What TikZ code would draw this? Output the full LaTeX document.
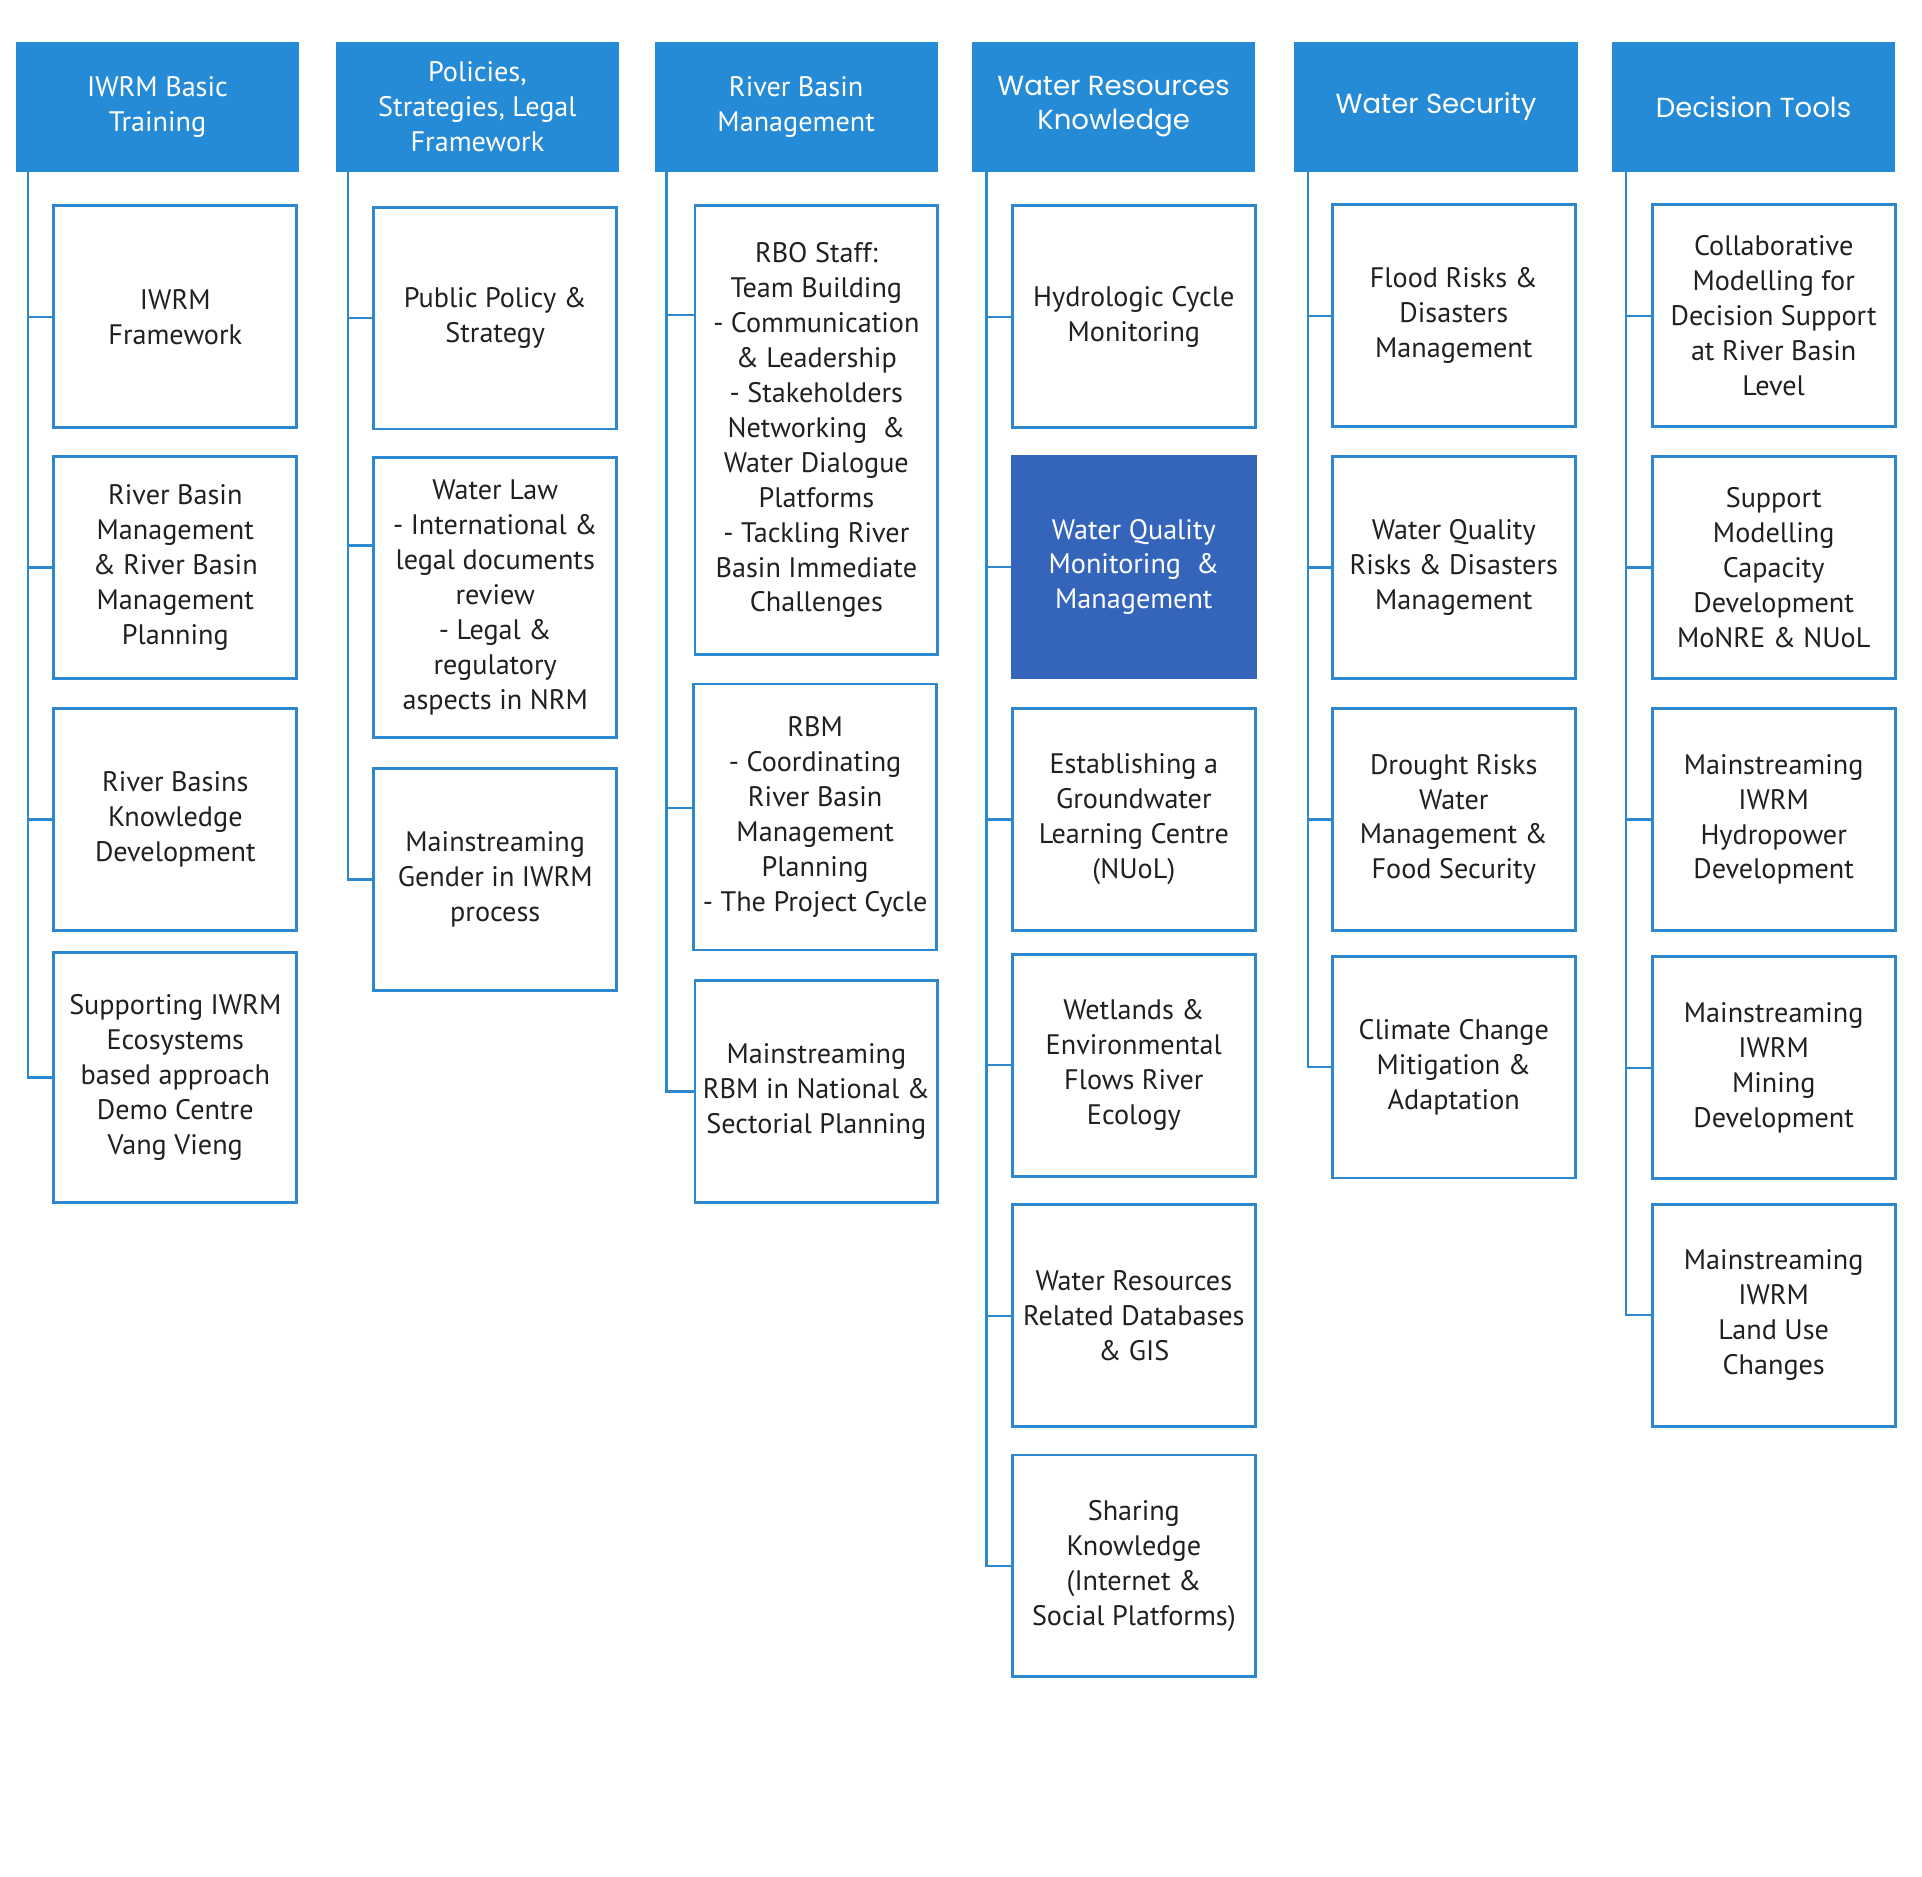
\documentclass[tikz,border=0pt]{standalone}
\usepackage{fontspec}
\setmainfont{PT Sans}
\newfontfamily\headfont{Poppins}
\definecolor{headblue}{HTML}{268BD7}
\definecolor{lineblue}{HTML}{2E88D0}
\definecolor{darkbox}{HTML}{3465BA}
\definecolor{textgray}{HTML}{231F20}
\begin{document}
\begin{tikzpicture}[x=1pt,y=-1pt,
  head/.style={fill=headblue, text=white, minimum width=231pt, minimum height=106pt,
    inner sep=0pt, align=center, font=\fontsize{23}{28.5}\selectfont},
  geohead/.style={head, font=\headfont\fontsize{22.5}{28.5}\selectfont},
  item/.style={draw=lineblue, line width=2.4pt, minimum width=198pt, minimum height=181pt,
    inner sep=0pt, align=center, text=textgray, font=\fontsize{23}{28.5}\selectfont},
  link/.style={draw=lineblue, line width=1.8pt}]
  \useasboundingbox (0,0) rectangle (1568,1531);

  \node[head]    (h1) at (128.5,87)  {IWRM Basic\\Training};
  \node[head]    (h2) at (389.5,87)  {Policies,\\Strategies, Legal\\Framework};
  \node[head]    (h3) at (649.5,87)  {River Basin\\Management};
  \node[geohead] (h4) at (908.5,87)  {Water Resources\\Knowledge};
  \node[geohead] (h5) at (1171.5,87) {Water Security};
  \node[geohead] (h6) at (1430.5,87) {Decision Tools};

  \node[item] (c11) at (143,258.5) {IWRM\\Framework};
  \node[item] (c12) at (143,463) {River Basin\\Management\\\& River Basin\\Management\\Planning};
  \node[item] (c13) at (143,668.5) {River Basins\\Knowledge\\Development};
  \node[item, minimum height=204pt] (c14) at (143,879) {Supporting IWRM\\Ecosystems\\based approach\\Demo Centre\\Vang Vieng};

  \node[item] (c21) at (404,259.5) {Public Policy \&\\Strategy};
  \node[item, minimum height=229pt] (c22) at (404,487.5) {Water Law\\- International \&\\legal documents\\review\\- Legal \&\\regulatory\\aspects in NRM};
  \node[item] (c23) at (404,717.5) {Mainstreaming\\Gender in IWRM\\process};

  \node[item, minimum height=366pt] (c31) at (666,351) {RBO Staff:\\Team Building\\- Communication\\\& Leadership\\- Stakeholders\\Networking~~\&\\Water Dialogue\\Platforms\\- Tackling River\\Basin Immediate\\Challenges};
  \node[item, minimum height=217pt] (c32) at (665,666.5) {RBM\\- Coordinating\\River Basin\\Management\\Planning\\- The Project Cycle};
  \node[item] (c33) at (666,890.5) {Mainstreaming\\RBM in National \&\\Sectorial Planning};

  \node[item] (c41) at (925,258.5) {Hydrologic Cycle\\Monitoring};
  \node[item, fill=darkbox, draw=darkbox, text=white] (c42) at (925,462.5) {Water Quality\\Monitoring~~\&\\Management};
  \node[item] (c43) at (925,668.5) {Establishing a\\Groundwater\\Learning Centre\\(NUoL)};
  \node[item] (c44) at (925,869) {Wetlands \&\\Environmental\\Flows River\\Ecology};
  \node[item] (c45) at (925,1073.5) {Water Resources\\Related Databases\\\& GIS};
  \node[item] (c46) at (925,1277.5) {Sharing\\Knowledge\\(Internet \&\\Social Platforms)};

  \node[item] (c51) at (1186,257.5) {Flood Risks \&\\Disasters\\Management};
  \node[item] (c52) at (1186,463) {Water Quality\\Risks \& Disasters\\Management};
  \node[item] (c53) at (1186,668.5) {Drought Risks\\Water\\Management \&\\Food Security};
  \node[item] (c54) at (1186,870.5) {Climate Change\\Mitigation \&\\Adaptation};

  \node[item] (c61) at (1447,257.5) {Collaborative\\Modelling for\\Decision Support\\at River Basin\\Level};
  \node[item] (c62) at (1447,463) {Support\\Modelling\\Capacity\\Development\\MoNRE \& NUoL};
  \node[item] (c63) at (1447,668.5) {Mainstreaming\\IWRM\\Hydropower\\Development};
  \node[item] (c64) at (1447,871) {Mainstreaming\\IWRM\\Mining\\Development};
  \node[item] (c65) at (1447,1073) {Mainstreaming\\IWRM\\Land Use\\Changes};

  \coordinate (t1) at ([xshift=10pt]h1.south west);
  \coordinate (t2) at ([xshift=10pt]h2.south west);
  \coordinate (t3) at ([xshift=10pt]h3.south west);
  \coordinate (t4) at ([xshift=12pt]h4.south west);
  \coordinate (t5) at ([xshift=11pt]h5.south west);
  \coordinate (t6) at ([xshift=12pt]h6.south west);

  \draw[link] (t1) |- (c11.west);
  \draw[link] (t1) |- (c12.west);
  \draw[link] (t1) |- (c13.west);
  \draw[link] (t1) |- (c14.west);
  \draw[link] (t2) |- (c21.west);
  \draw[link] (t2) |- ([yshift=42.5pt]c22.west);
  \draw[link] (t2) |- (c23.west);
  \draw[link] (t3) |- ([yshift=94pt]c31.west);
  \draw[link] (t3) |- ([yshift=7.5pt]c32.west);
  \draw[link] (t3) |- (c33.west);
  \draw[link] (t4) |- (c41.west);
  \draw[link] (t4) |- (c42.west);
  \draw[link] (t4) |- (c43.west);
  \draw[link] (t4) |- (c44.west);
  \draw[link] (t4) |- (c45.west);
  \draw[link] (t4) |- (c46.west);
  \draw[link] (t5) |- (c51.west);
  \draw[link] (t5) |- (c52.west);
  \draw[link] (t5) |- (c53.west);
  \draw[link] (t5) |- (c54.west);
  \draw[link] (t6) |- (c61.west);
  \draw[link] (t6) |- (c62.west);
  \draw[link] (t6) |- (c63.west);
  \draw[link] (t6) |- (c64.west);
  \draw[link] (t6) |- (c65.west);
\end{tikzpicture}
\end{document}
